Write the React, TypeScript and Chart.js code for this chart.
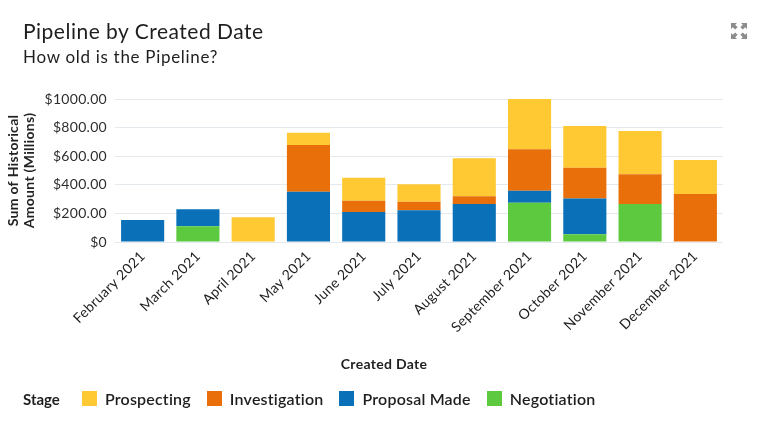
import React, { useEffect, useRef } from "react";
import { Chart, registerables } from "chart.js";

Chart.register(...registerables);

const categories = [
  "February 2021",
  "March 2021",
  "April 2021",
  "May 2021",
  "June 2021",
  "July 2021",
  "August 2021",
  "September 2021",
  "October 2021",
  "November 2021",
  "December 2021",
];

const negotiation = [0, 110, 0, 0, 0, 0, 0, 275, 54, 266, 0];
const proposalMade = [154, 119, 0, 352, 210, 222, 266, 84, 251, 0, 0];
const investigation = [0, 0, 0, 326, 79, 60, 54, 289, 215, 207, 336];
const prospecting = [0, 0, 173, 86, 161, 121, 265, 352, 291, 303, 237];

const yTicks = [0, 200, 400, 600, 800, 1000];

const legendNames = ["Prospecting", "Investigation", "Proposal Made", "Negotiation"];
const legendColors = ["#FFC933", "#E86F0A", "#0A70B8", "#5CC93E"];

const FONT = "Lato, 'Noto Sans', sans-serif";

const spacingPlugin = {
  id: "letterSpacing",
  beforeUpdate(chart: any) {
    try {
      chart.ctx.letterSpacing = "0.3px";
    } catch (e) {}
  },
  beforeDraw(chart: any) {
    try {
      chart.ctx.letterSpacing = "0.3px";
    } catch (e) {}
  },
};

export default function App() {
  const canvasRef = useRef<HTMLCanvasElement | null>(null);

  useEffect(() => {
    if (!canvasRef.current) return;
    Chart.defaults.font.family = FONT;
    const stackSeries = [
      { label: legendNames[3], data: negotiation, color: legendColors[3] },
      { label: legendNames[2], data: proposalMade, color: legendColors[2] },
      { label: legendNames[1], data: investigation, color: legendColors[1] },
      { label: legendNames[0], data: prospecting, color: legendColors[0] },
    ];
    const chart = new Chart(canvasRef.current, {
      type: "bar",
      plugins: [spacingPlugin],
      data: {
        labels: categories,
        datasets: stackSeries.map((s) => ({
          label: s.label,
          data: s.data,
          backgroundColor: s.color,
          borderWidth: 0,
          barPercentage: 0.78,
          categoryPercentage: 1,
        })),
      },
      options: {
        animation: false,
        responsive: false,
        maintainAspectRatio: false,
        layout: { padding: { top: 99, left: 45, right: 45, bottom: 67.2 } },
        plugins: {
          legend: { display: false },
          tooltip: { enabled: false },
          title: {
            display: true,
            text: "Created Date",
            position: "bottom",
            color: "#222222",
            font: { size: 14, weight: "bold", family: FONT, lineHeight: 1.2 },
            padding: { top: 24, bottom: 0 },
          },
        },
        scales: {
          x: {
            stacked: true,
            offset: true,
            grid: { display: false, drawTicks: false },
            border: { display: false },
            ticks: {
              color: "#222222",
              font: { size: 14, family: FONT },
              minRotation: 45,
              maxRotation: 45,
              padding: 6,
              autoSkip: false,
            },
            afterFit: (scale: any) => {
              scale.height = 90;
            },
          },
          y: {
            stacked: true,
            min: 0,
            max: 1000,
            afterBuildTicks: (scale: any) => {
              scale.ticks = yTicks.map((v) => ({ value: v }));
            },
            grid: { color: "#E4E9ED", lineWidth: 1, drawTicks: false },
            border: { display: false },
            ticks: {
              color: "#2E2E2E",
              font: { size: 14, family: FONT },
              padding: 8,
              callback: (v: any) => (Number(v) === 0 ? "$0" : "$" + Number(v).toFixed(2)),
            },
            title: {
              display: true,
              text: ["Sum of Historical", "Amount (Millions)"],
              color: "#222222",
              font: { size: 14, weight: "bold", family: FONT, lineHeight: 16 / 14 },
              padding: { top: -40, bottom: 0 },
            },
            afterFit: (scale: any) => {
              scale.width = 70;
            },
          },
        },
      },
    });
    return () => chart.destroy();
  }, []);

  return (
    <div
      style={{
        position: "absolute",
        left: 0,
        top: 0,
        width: 768,
        height: 440,
        background: "#ffffff",
        overflow: "hidden",
        fontFamily: FONT,
      }}
    >
      <canvas
        ref={canvasRef}
        width={768}
        height={440}
        style={{ position: "absolute", left: 0, top: 0, width: 768, height: 440 }}
      />
      <div
        style={{
          position: "absolute",
          left: 23,
          top: 17.8,
          fontSize: 21,
          lineHeight: "25px",
          letterSpacing: "0.5px",
          color: "#1E1E1E",
          whiteSpace: "nowrap",
        }}
      >
        Pipeline by Created Date
      </div>
      <div
        style={{
          position: "absolute",
          left: 23,
          top: 47.1,
          fontSize: 17,
          lineHeight: "20.4px",
          letterSpacing: "0.7px",
          color: "#1E1E1E",
          whiteSpace: "nowrap",
        }}
      >
        How old is the Pipeline?
      </div>
      <svg
        width={16}
        height={16}
        viewBox="0 0 16 16"
        style={{ position: "absolute", left: 730.5, top: 23 }}
      >
        <g fill="#8C8C8C">
          <path d="M0 0 H6 L4.2 1.8 L6.6 4.2 L4.2 6.6 L1.8 4.2 L0 6 Z" />
          <path d="M16 0 V6 L14.2 4.2 L11.8 6.6 L9.4 4.2 L11.8 1.8 L10 0 Z" />
          <path d="M0 16 V10 L1.8 11.8 L4.2 9.4 L6.6 11.8 L4.2 14.2 L6 16 Z" />
          <path d="M16 16 H10 L11.8 14.2 L9.4 11.8 L11.8 9.4 L14.2 11.8 L16 10 Z" />
        </g>
      </svg>
      <div
        style={{
          position: "absolute",
          left: 23,
          top: 391,
          height: 15,
          display: "flex",
          alignItems: "center",
          whiteSpace: "nowrap",
          color: "#1E1E1E",
        }}
      >
        <span style={{ fontSize: 15, fontWeight: 700, marginRight: 22 }}>Stage</span>
        {legendNames.map((name, i) => (
          <span
            key={name}
            style={{ display: "flex", alignItems: "center", marginRight: 16 }}
          >
            <span
              style={{
                display: "inline-block",
                width: 15,
                height: 15,
                background: legendColors[i],
                marginRight: 8,
              }}
            />
            <span style={{ fontSize: 16, fontWeight: 600, letterSpacing: "0.2px" }}>{name}</span>
          </span>
        ))}
      </div>
    </div>
  );
}
